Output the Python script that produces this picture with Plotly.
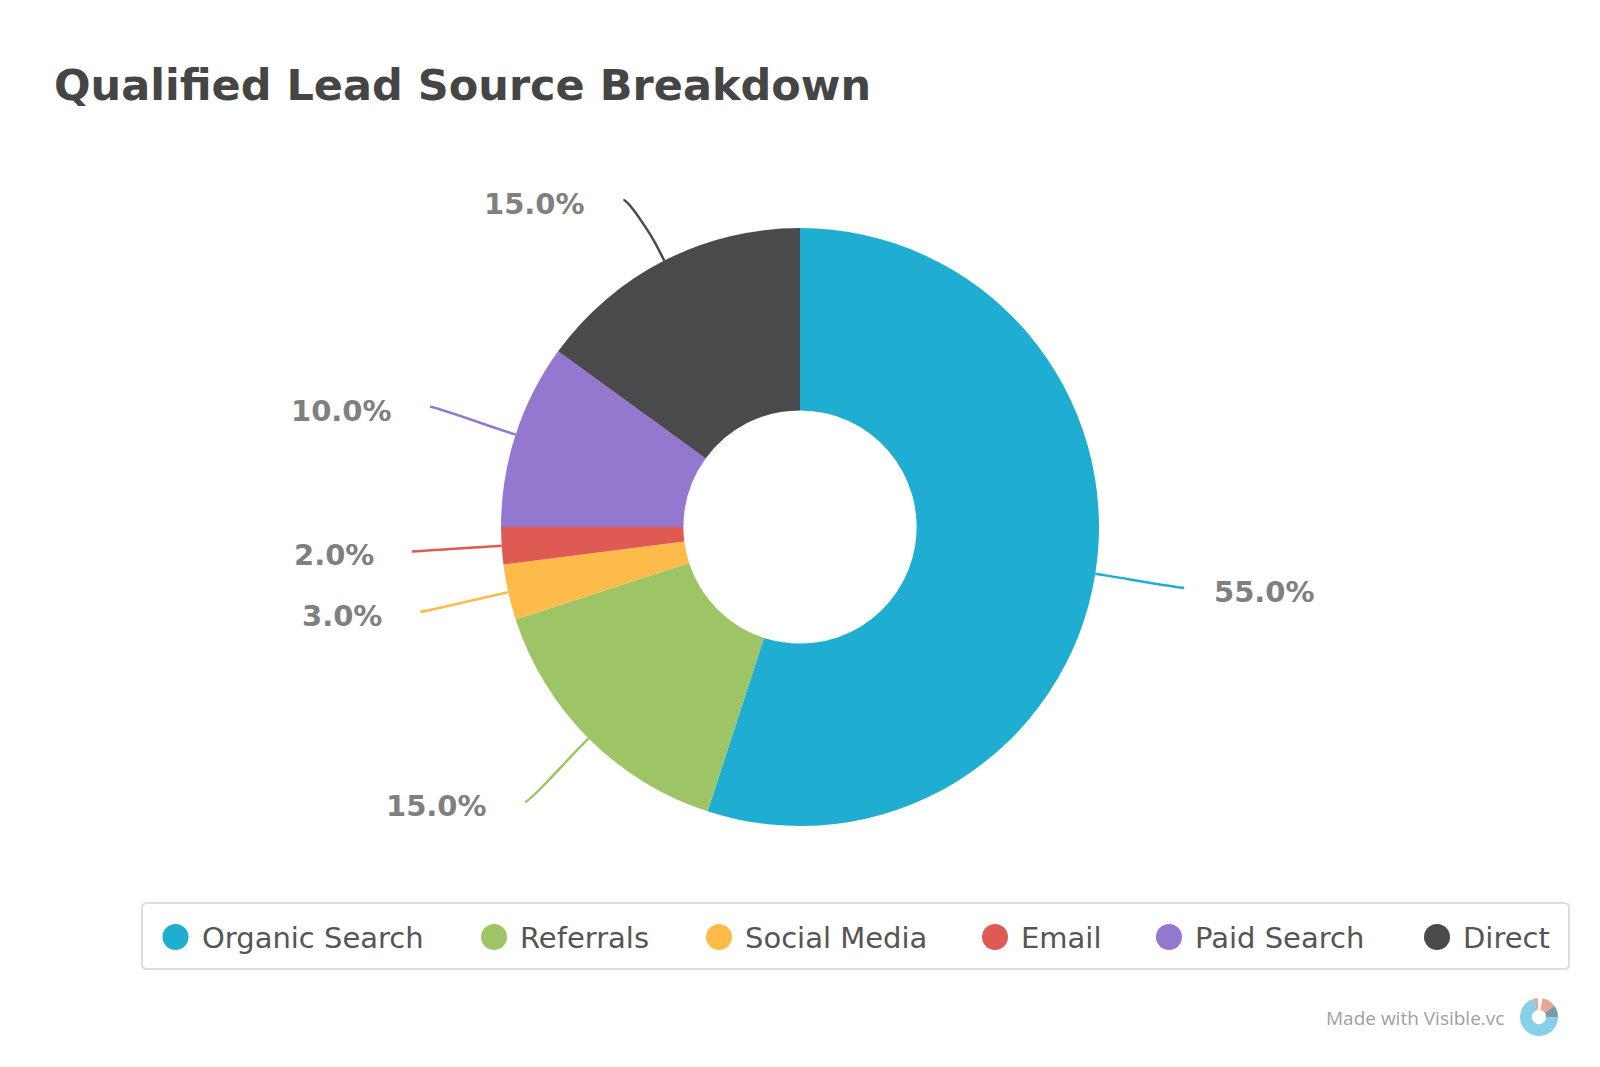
import math
import plotly.graph_objects as go

# ---- data ----
categories = ["Organic Search", "Referrals", "Social Media", "Email", "Paid Search", "Direct"]
shares = [55.0, 15.0, 3.0, 2.0, 10.0, 15.0]
colors = ["#1fadd1", "#9dc566", "#fdbb4a", "#df5a52", "#9478cf", "#4a4a4c"]
title_text = "Qualified Lead Source Breakdown"
logo_shares = [70, 4, 4, 12, 10]
logo_colors = ["#86d0e8", "#e9a59a", "#ffffff", "#e9a59a", "#7c9aa8"]

# ---- layout constants (pixels) ----
W, H = 1600, 1067
CX, CY, R = 800.0, 527.0, 299.0
HOLE = 0.39
LABEL_DIST = 90.0
PLOT_TOP = 200.0
LEGEND_X = [175.5, 494, 719, 995, 1169, 1437]
LEGEND_Y = 937
LEGEND_R = 13


def px(x):
    return x / W


def py(y):
    return 1 - y / H


fig = go.Figure()
fig.add_trace(go.Pie(
    labels=categories, values=shares, sort=False, direction="clockwise", rotation=0,
    hole=HOLE, marker=dict(colors=colors, line=dict(width=0)), textinfo="none",
    showlegend=False, hoverinfo="label+percent",
    domain=dict(x=[px(CX - R), px(CX + R)], y=[py(CY + R), py(CY - R)]),
))

# logo donut (decorative)
fig.add_trace(go.Pie(
    values=logo_shares, sort=False, direction="clockwise", rotation=90, hole=0.38,
    marker=dict(colors=logo_colors, line=dict(width=0)), textinfo="none",
    showlegend=False, hoverinfo="skip",
    domain=dict(x=[px(1539 - 19), px(1539 + 19)], y=[py(1017 + 19), py(1017 - 19)]),
))

shapes = []
annotations = []

# leader lines and labels, computed from the data
total = sum(shares)
cum = 0.0
for name, v, c in zip(categories, shares, colors):
    mid = (cum + v / 2) / total * 2 * math.pi
    cum += v
    ux, uy = math.sin(mid), -math.cos(mid)
    tx, ty = CX + R * ux, CY + R * uy
    bx, by = CX + (R + 15) * ux, CY + (R + 15) * uy
    ex, ey = CX + (R + LABEL_DIST) * ux, CY + (R + LABEL_DIST) * uy
    ey = max(ey, PLOT_TOP)
    right = ux >= 0
    c1x = ex + (-5 if right else 5)
    c2x, c2y = 2 * bx - tx, 2 * by - ty
    path = (f"M {px(ex)},{py(ey)} C {px(c1x)},{py(ey)} {px(c2x)},{py(c2y)} {px(bx)},{py(by)} "
            f"L {px(tx)},{py(ty)}")
    shapes.append(dict(type="path", xref="paper", yref="paper", path=path,
                       line=dict(color=c, width=2.5)))
    annotations.append(dict(
        xref="paper", yref="paper", x=px(ex + 28 if right else ex - 36), y=py(ey + 4),
        xanchor="left" if right else "right", yanchor="middle", showarrow=False,
        text=f"{v / total * 100:.1f}%",
        font=dict(family="DejaVu Sans", size=29, color="#808080", weight="bold"),
    ))

# title
annotations.append(dict(
    xref="paper", yref="paper", x=px(52), y=py(85), xanchor="left", yanchor="middle",
    showarrow=False, text=f"<b>{title_text}</b>",
    font=dict(family="DejaVu Sans", size=43, color="#454545"),
))

# legend box
x0, x1, y0, y1, rr = 142, 1569, 903, 969, 5
box = (f"M {px(x0 + rr)},{py(y0)} L {px(x1 - rr)},{py(y0)} Q {px(x1)},{py(y0)} {px(x1)},{py(y0 + rr)} "
       f"L {px(x1)},{py(y1 - rr)} Q {px(x1)},{py(y1)} {px(x1 - rr)},{py(y1)} "
       f"L {px(x0 + rr)},{py(y1)} Q {px(x0)},{py(y1)} {px(x0)},{py(y1 - rr)} "
       f"L {px(x0)},{py(y0 + rr)} Q {px(x0)},{py(y0)} {px(x0 + rr)},{py(y0)} Z")
shapes.append(dict(type="path", xref="paper", yref="paper", path=box,
                   line=dict(color="#dddddd", width=2), fillcolor="rgba(255,255,255,0)"))

for name, c, lx in zip(categories, colors, LEGEND_X):
    shapes.append(dict(type="circle", xref="paper", yref="paper",
                       x0=px(lx - LEGEND_R), x1=px(lx + LEGEND_R),
                       y0=py(LEGEND_Y + LEGEND_R), y1=py(LEGEND_Y - LEGEND_R),
                       fillcolor=c, line=dict(width=0)))
    annotations.append(dict(
        xref="paper", yref="paper", x=px(lx + 24), y=py(LEGEND_Y + 1),
        xanchor="left", yanchor="middle", showarrow=False, text=name,
        font=dict(family="DejaVu Sans", size=29, color="#555555"),
    ))

# watermark
annotations.append(dict(
    xref="paper", yref="paper", x=px(1506), y=py(1018), xanchor="right", yanchor="middle",
    showarrow=False, text="Made with Visible.vc",
    font=dict(family="Open Sans", size=19, color="#a0a0a0"),
))

fig.update_layout(
    width=W, height=H, margin=dict(l=0, r=0, t=0, b=0),
    paper_bgcolor="white", plot_bgcolor="white",
    shapes=shapes, annotations=annotations, showlegend=False,
)

fig.write_html("out.html")
